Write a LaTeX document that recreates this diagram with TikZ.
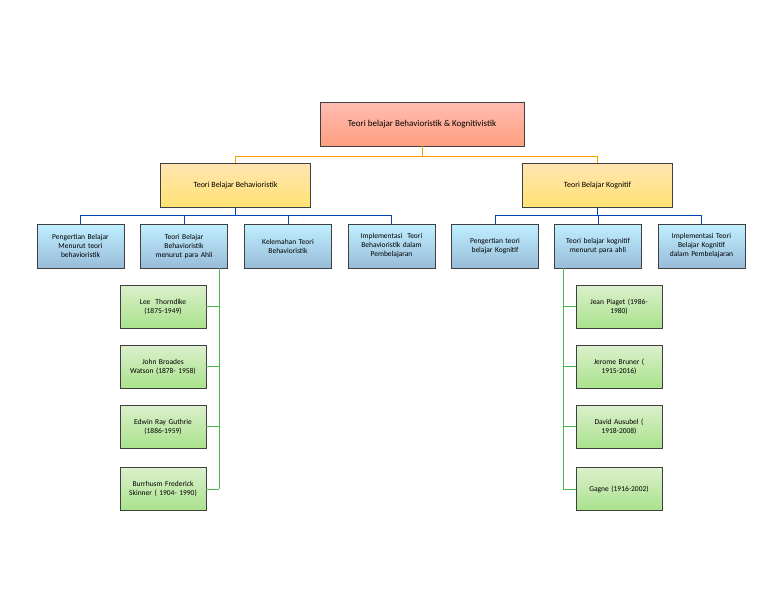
\documentclass[tikz,border=0pt]{standalone}
\usepackage{fontspec}
\setmainfont{Carlito}
\begin{document}
\begin{tikzpicture}[x=1pt,y=-1pt,
 bx/.style={draw=black!75,line width=0.6pt,align=center,inner sep=1pt,font=\fontsize{7.5}{9}\selectfont},
 root/.style={bx,fill=orange!35!red!40!white,top color=orange!25!red!30!white,bottom color=orange!50!red!50!white,minimum width=204pt,minimum height=44pt,font=\fontsize{9}{11}\selectfont},
 yel/.style={bx,top color=yellow!30!orange!30!white,bottom color=yellow!60!orange!55!white,minimum width=150pt,minimum height=44pt,font=\fontsize{8}{10}\selectfont},
 blu/.style={bx,top color=blue!25!cyan!25!white,bottom color=blue!45!cyan!30!white!85!black,minimum width=87pt,minimum height=44pt,text width=84pt},
 grn/.style={bx,top color=green!40!olive!20!white,bottom color=green!50!olive!45!white,minimum width=86pt,minimum height=43pt,text width=82pt},
 ly/.style={draw=orange!80!yellow,line width=0.8pt},
 lb/.style={draw=blue!60!cyan!70!black,line width=0.8pt},
 lg/.style={draw=green!60!black!70!white,line width=0.8pt}]
\useasboundingbox (0,0) rectangle (768,594);
\node[root] (r) at (422,124) {Teori belajar Behavioristik \& Kognitivistik};
\node[yel] (b) at (235.5,185) {Teori Belajar Behavioristik};
\node[yel] (k) at (597.5,185) {Teori Belajar Kognitif};
\node[blu] (b1) at (80.5,246) {Pengertian Belajar\\Menurut teori\\behavioristik};
\node[blu] (b2) at (184,246) {Teori Belajar\\Behavioristik\\menurut para Ahli};
\node[blu] (b3) at (288,246) {Kelemahan Teori\\Behavioristik};
\node[blu] (b4) at (391.5,246) {Implementasi~ Teori\\Behavioristik dalam\\Pembelajaran};
\node[blu] (k1) at (495,246) {Pengertian teori\\belajar Kognitif};
\node[blu] (k2) at (598,246) {Teori belajar kognitif\\menurut para ahli};
\node[blu] (k3) at (701.5,246) {Implementasi Teori\\Belajar Kognitif\\dalam Pembelajaran};
\node[grn] (g1) at (163,306.5) {Lee~ Thorndike\\(1875-1949)};
\node[grn] (g2) at (163,366.5) {John Broades\\Watson (1878- 1958)};
\node[grn] (g3) at (163,426.5) {Edwin Ray Guthrie\\(1886-1959)};
\node[grn] (g4) at (163,489) {Burrhusm Frederick\\Skinner ( 1904- 1990)};
\node[grn] (h1) at (619,306.5) {Jean Piaget (1986-\\1980)};
\node[grn] (h2) at (619,366.5) {Jerome Bruner (\\1915-2016)};
\node[grn] (h3) at (619,426.5) {David Ausubel (\\1918-2008)};
\node[grn] (h4) at (619,489) {Gagne (1916-2002)};
\coordinate (ry) at (422,156);
\draw[ly] (r.south) -- (ry);
\foreach \n in {b,k} \draw[ly] (ry) -| (\n.north);
\draw[lb] (b.south) -- (235.5,215);
\foreach \n in {b1,b2,b3,b4} \draw[lb] (235.5,215) -| (\n.north);
\draw[lb] (k.south) -- (597.5,215);
\foreach \n in {k1,k2,k3} \draw[lb] (597.5,215) -| (\n.north);
\coordinate (gl) at (219,268);
\coordinate (gr) at (563,268);
\draw[lg] (b2.south -| gl) -- (g4.east -| gl);
\foreach \n in {g1,g2,g3,g4} \draw[lg] (\n.east -| gl) -- (\n.east);
\draw[lg] (k2.south -| gr) -- (h4.west -| gr);
\foreach \n in {h1,h2,h3,h4} \draw[lg] (\n.west -| gr) -- (\n.west);
\end{tikzpicture}
\end{document}
